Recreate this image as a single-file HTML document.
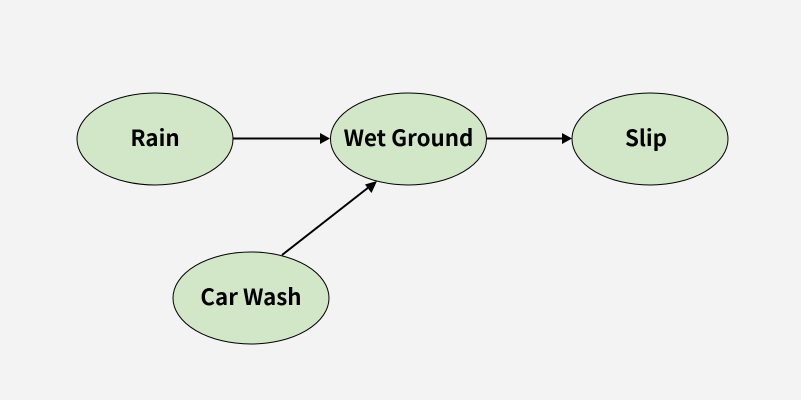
<!DOCTYPE html>
<html>
<head>
<meta charset="utf-8">
<style>
html,body{margin:0;padding:0;background:#f3f3f3;}
svg{display:block;}
text{font-family:"Noto Sans CJK SC","Noto Sans CJK JP","Liberation Sans",sans-serif;font-weight:700;font-size:22.3px;fill:#000;text-anchor:middle;}
</style>
</head>
<body>
<svg width="801" height="400" viewBox="0 0 801 400" xmlns="http://www.w3.org/2000/svg">
<rect width="801" height="400" fill="#f3f3f3"/>
<g fill="#d1e7c8" stroke="#000" stroke-width="1">
<ellipse cx="155" cy="139" rx="78" ry="46"/>
<ellipse cx="408.5" cy="139" rx="78" ry="46"/>
<ellipse cx="650" cy="139" rx="78" ry="46"/>
<ellipse cx="251" cy="298" rx="78" ry="46"/>
</g>
<g stroke="#000" stroke-width="2" fill="none">
<line x1="233" y1="138.5" x2="322" y2="138.5"/>
<line x1="487" y1="138.5" x2="564" y2="138.5"/>
<line x1="282" y1="255" x2="369" y2="187"/>
</g>
<g fill="#000">
<polygon points="330,138.5 320,133 320,144"/>
<polygon points="572,138.5 562,133 562,144"/>
<polygon points="377,181 365,184.5 371.5,193"/>
</g>
<text x="155" y="146">Rain</text>
<text x="408.5" y="146">Wet Ground</text>
<text x="646" y="146">Slip</text>
<text x="251" y="305">Car Wash</text>
</svg>
</body>
</html>
